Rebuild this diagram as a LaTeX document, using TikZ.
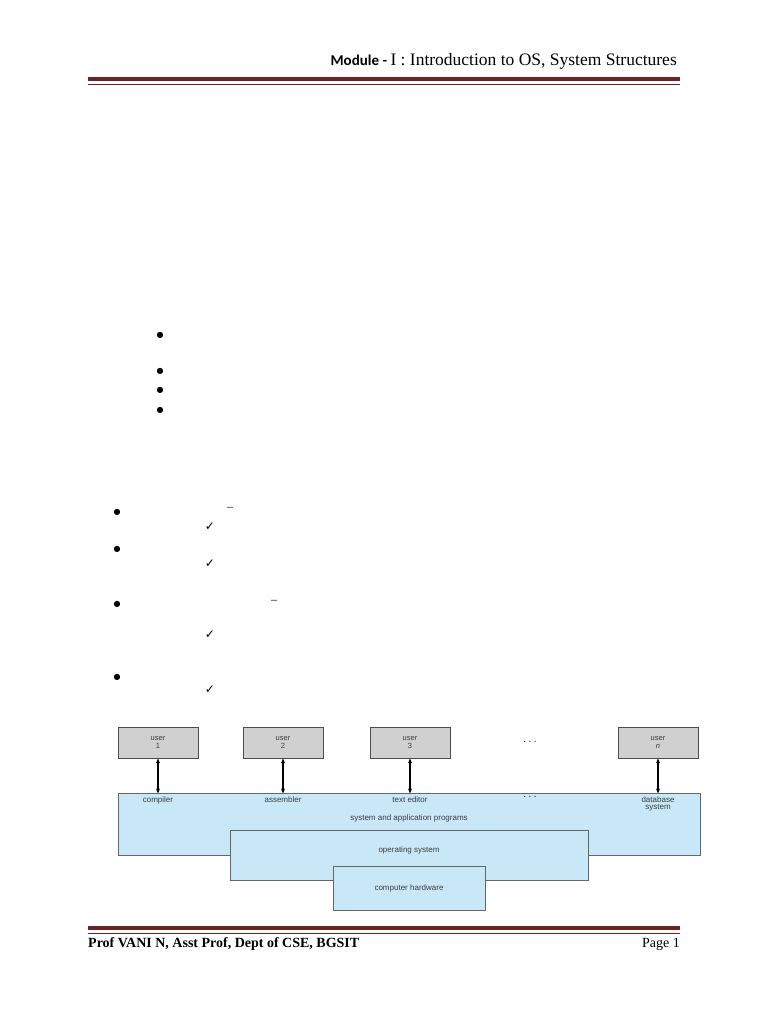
\documentclass[tikz,border=0pt]{standalone}
\usepackage{fontspec}
\setmainfont{Liberation Serif}
\newfontfamily\hdsans{Carlito}
\newfontfamily\dgsans{Liberation Sans}
\newfontfamily\sym{DejaVu Sans}
\usetikzlibrary{arrows.meta}
\definecolor{rulered}{RGB}{110,35,35}
\definecolor{lblue}{RGB}{200,232,248}
\definecolor{ugrey}{RGB}{208,208,208}
\definecolor{tgrey}{RGB}{60,60,60}
\begin{document}
\begin{tikzpicture}[x=1pt,y=-1pt,
  ubox/.style={draw=black!70,fill=ugrey,line width=0.8pt,minimum width=80pt,minimum height=31pt,inner sep=0pt,font=\dgsans\fontsize{7.5}{8}\selectfont,text=tgrey,align=center},
  lay/.style={draw=black!60,fill=lblue,line width=0.8pt},
  lbl/.style={font=\dgsans\fontsize{8}{8.5}\selectfont,text=tgrey,align=center,inner sep=0pt},
  arr/.style={{Stealth[length=5pt,width=4pt]}-{Stealth[length=5pt,width=4pt]},line width=1.2pt},
  bul/.style={font=\sym\fontsize{8}{8}\selectfont,inner sep=0pt},
  chk/.style={font=\sym\fontsize{12}{12}\selectfont,inner sep=0pt}]
\useasboundingbox (0,0) rectangle (768,1024);
% header
\node[anchor=base east,inner sep=0pt] (hd) at (677,66) {{\hdsans\bfseries\fontsize{15}{15}\selectfont Module - }\fontsize{17.5}{17.5}\selectfont I : Introduction to OS, System Structures};
\fill[rulered] (88,77) rectangle (680,81.5);
\draw[rulered,line width=0.6pt] (88,84) -- (680,84);
% footer
\fill[rulered] (88,925.5) rectangle (680,930);
\draw[rulered,line width=0.6pt] (88,933) -- (680,933);
\node[anchor=base west,inner sep=0pt] (ft) at (88,947) {\bfseries\fontsize{14}{14}\selectfont Prof VANI N, Asst Prof, Dept of CSE, BGSIT};
\node[anchor=base east,inner sep=0pt] (pg) at (680,947) {\fontsize{14}{14}\selectfont Page 1};
% bullets
\foreach \y [count=\i] in {335,371,390,410} \node[bul] (b\i) at (160,\y) {●};
\foreach \y [count=\i] in {512,549,604,677} \node[bul] (c\i) at (117,\y) {●};
\foreach \y [count=\i] in {527,564,635,690} \node[chk] (k\i) at (210,\y) {✓};
\node[inner sep=0pt] (d1) at (230,509) {\fontsize{12}{12}\selectfont –};
\node[inner sep=0pt] (d2) at (274,602) {\fontsize{12}{12}\selectfont –};
% diagram
\draw[lay] (118,793) rectangle (700,855);
\draw[lay] (230,830) rectangle (588,880);
\draw[lay] (333,866) rectangle (485,910);
\node[lbl] (os) at (409,850) {operating system};
\node[lbl] (hw) at (409,888) {computer hardware};
\node[lbl] (sap) at (409,818) {system and application programs};
\node[ubox] (u1) at (158,742.5) {user\\1};
\node[ubox] (u2) at (283,742.5) {user\\2};
\node[ubox] (u3) at (410,742.5) {user\\3};
\node[ubox] (un) at (658,742.5) {user\\\textit{n}};
\node[lbl] (dots1) at (530,742) {\bfseries . . .};
\node[lbl,anchor=north] (p1) at (158,796) {compiler};
\node[lbl,anchor=north] (p2) at (283,796) {assembler};
\node[lbl,anchor=north] (p3) at (410,796) {text editor};
\node[lbl,anchor=north] (p4) at (530,796) {\bfseries . . .};
\node[lbl,anchor=north] (pn) at (658,796) {database\\[-1.5pt]system};
\foreach \u in {u1,u2,u3,un} \draw[arr] (\u.south) -- ++(0,35);
\end{tikzpicture}
\end{document}
